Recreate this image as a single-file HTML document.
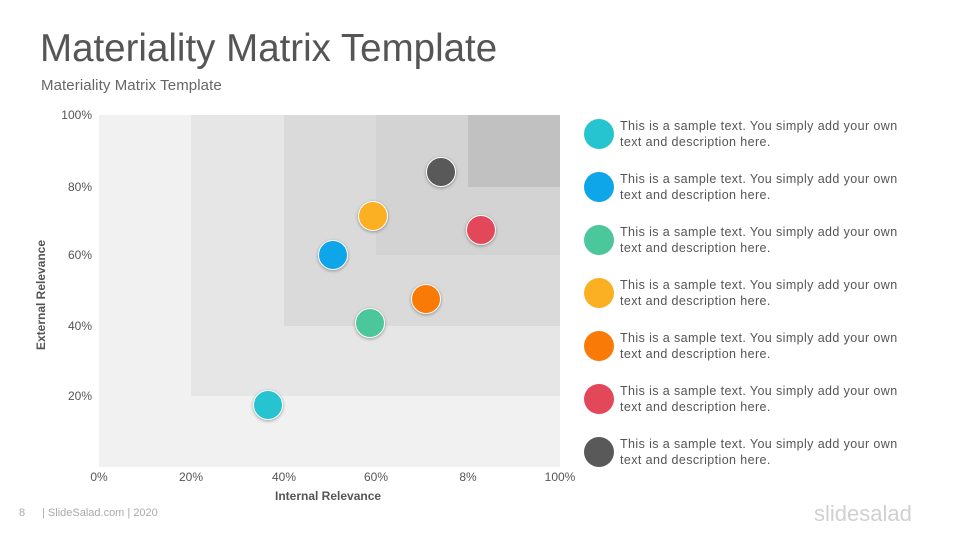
<!DOCTYPE html>
<html><head><meta charset="utf-8"><style>
body{margin:0;width:960px;height:540px;background:#fff;position:relative;overflow:hidden;font-family:"Liberation Sans",sans-serif;color:#555}
.a{position:absolute}
.t{font-size:12.5px;color:#555;line-height:15.5px;white-space:nowrap;letter-spacing:0.4px}
.dot{position:absolute;width:28px;height:28px;border-radius:50%;border:1.5px solid #fff;box-shadow:0 1px 3px rgba(0,0,0,.35);transform:translate(-50%,-50%)}
.ld{position:absolute;width:30px;height:30px;border-radius:50%;transform:translate(-50%,-50%)}
.yl{font-size:12px;color:#555;text-align:right;width:60px}
.xl{font-size:12px;color:#555;width:60px;text-align:center}
</style></head><body>
<div class="a" style="left:40px;top:27px;font-size:38.5px;color:#555">Materiality Matrix Template</div>
<div class="a" style="left:41px;top:77px;font-size:15px;color:#666;letter-spacing:0.1px">Materiality Matrix Template</div>

<div class="a" style="left:99px;top:115px;width:461px;height:352px;background:#f1f1f1"></div>
<div class="a" style="left:191px;top:115px;width:369px;height:281px;background:#e6e6e6"></div>
<div class="a" style="left:284px;top:115px;width:276px;height:211px;background:#dadada"></div>
<div class="a" style="left:376px;top:115px;width:184px;height:140px;background:#d3d3d3"></div>
<div class="a" style="left:468px;top:115px;width:92px;height:72px;background:#c1c1c1"></div>

<div class="a yl" style="left:32px;top:108px">100%</div>
<div class="a yl" style="left:32px;top:180px">80%</div>
<div class="a yl" style="left:32px;top:248px">60%</div>
<div class="a yl" style="left:32px;top:319px">40%</div>
<div class="a yl" style="left:32px;top:389px">20%</div>
<div class="a xl" style="left:69px;top:470px">0%</div>
<div class="a xl" style="left:161px;top:470px">20%</div>
<div class="a xl" style="left:254px;top:470px">40%</div>
<div class="a xl" style="left:346px;top:470px">60%</div>
<div class="a xl" style="left:438px;top:470px">8%</div>
<div class="a xl" style="left:530px;top:470px">100%</div>
<div class="a" style="left:275px;top:489px;font-size:12px;font-weight:bold;color:#555">Internal Relevance</div>
<div class="a" style="left:41px;top:295px;font-size:12px;font-weight:bold;color:#555;transform:translate(-50%,-50%) rotate(-90deg);white-space:nowrap">External Relevance</div>

<div class="dot" style="left:268px;top:405px;background:#26c3d1"></div>
<div class="dot" style="left:333px;top:255px;background:#0ea5e9"></div>
<div class="dot" style="left:370px;top:323px;background:#4cc79c"></div>
<div class="dot" style="left:373px;top:216px;background:#fbb023"></div>
<div class="dot" style="left:426px;top:299px;background:#f97a06"></div>
<div class="dot" style="left:481px;top:230px;background:#e2475a"></div>
<div class="dot" style="left:441px;top:172px;background:#595959"></div>

<div class="ld" style="left:599px;top:134px;background:#26c3d1"></div>
<div class="ld" style="left:599px;top:187px;background:#0ea5e9"></div>
<div class="ld" style="left:599px;top:240px;background:#4cc79c"></div>
<div class="ld" style="left:599px;top:293px;background:#fbb023"></div>
<div class="ld" style="left:599px;top:346px;background:#f97a06"></div>
<div class="ld" style="left:599px;top:399px;background:#e2475a"></div>
<div class="ld" style="left:599px;top:452px;background:#595959"></div>

<div class="a t" style="left:620px;top:119px">This is a sample text. You simply add your own<br>text and description here.</div>
<div class="a t" style="left:620px;top:172px">This is a sample text. You simply add your own<br>text and description here.</div>
<div class="a t" style="left:620px;top:225px">This is a sample text. You simply add your own<br>text and description here.</div>
<div class="a t" style="left:620px;top:278px">This is a sample text. You simply add your own<br>text and description here.</div>
<div class="a t" style="left:620px;top:331px">This is a sample text. You simply add your own<br>text and description here.</div>
<div class="a t" style="left:620px;top:384px">This is a sample text. You simply add your own<br>text and description here.</div>
<div class="a t" style="left:620px;top:437px">This is a sample text. You simply add your own<br>text and description here.</div>

<div class="a" style="left:19px;top:507px;font-size:11px;color:#aaa">8</div>
<div class="a" style="left:42px;top:507px;font-size:11px;color:#aaa">| SlideSalad.com | 2020</div>
<div class="a" style="left:814px;top:501px;font-size:22px;color:#d0d0d0">slidesalad</div>
</body></html>
